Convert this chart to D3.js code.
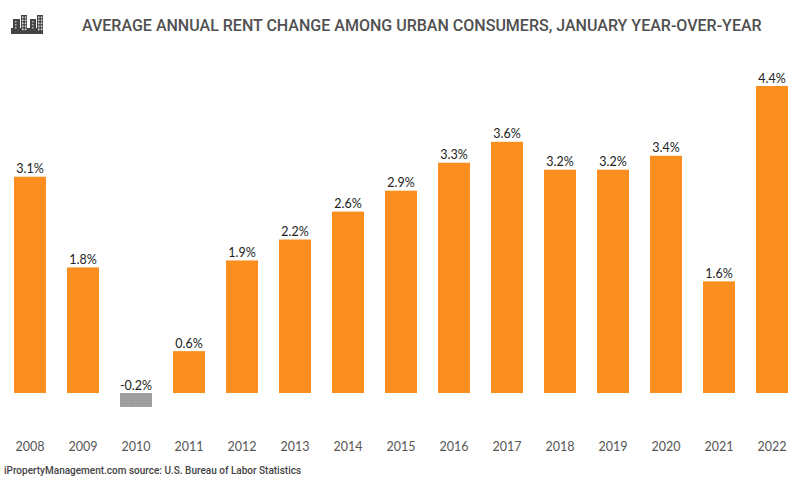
<!DOCTYPE html>
<html>
<head>
<meta charset="utf-8">
<style>
  html, body { margin: 0; padding: 0; background: #fff; }
  svg { display: block; }
</style>
<script src="https://cdn.jsdelivr.net/npm/d3@7"></script>
</head>
<body>
<svg id="chart" width="800" height="478"></svg>
<script>
const years = ["2008", "2009", "2010", "2011", "2012", "2013", "2014", "2015", "2016", "2017", "2018", "2019", "2020", "2021", "2022"];
const rentChange = [3.1, 1.8, -0.2, 0.6, 1.9, 2.2, 2.6, 2.9, 3.3, 3.6, 3.2, 3.2, 3.4, 1.6, 4.4];
const titleText = "AVERAGE ANNUAL RENT CHANGE AMONG URBAN CONSUMERS, JANUARY YEAR-OVER-YEAR";
const sourceText = "iPropertyManagement.com source: U.S. Bureau of Labor Statistics";

const svg = d3.select("#chart");

// bars start at x=14, step 53, width 32
const x = d3.scaleBand().domain(years).range([14, 788]).paddingInner(21 / 53).paddingOuter(0);
// baseline at y=393, 4.4 reaches y=86
const y = d3.scaleLinear().domain([0, 4.4]).range([393, 86]);

// dotted fill for the negative bar
const defs = svg.append("defs");
const pat = defs.append("pattern").attr("id", "neg").attr("width", 3).attr("height", 3).attr("patternUnits", "userSpaceOnUse");
pat.append("rect").attr("width", 3).attr("height", 3).attr("fill", "#a0a0a0");
pat.append("rect").attr("x", 1).attr("y", 1).attr("width", 1).attr("height", 1).attr("fill", "#929292");

// title
svg.append("text")
  .attr("x", 82).attr("y", 31)
  .attr("font-family", "Roboto").attr("font-weight", 500).attr("font-size", 16.03)
  .attr("fill", "#505050").text(titleText);

// city icon
const icon = svg.append("g").attr("fill", "#444");
[[11, 28, 32, 6], [13, 19, 7, 9], [21, 15, 6, 13], [30, 19, 6, 9], [37, 15, 6, 13]].forEach(b => {
  icon.append("rect").attr("x", b[0]).attr("y", b[1]).attr("width", b[2]).attr("height", b[3]);
});
[22, 24.8, 38, 40.8].forEach(wx => {
  d3.range(16.5, 31, 3).forEach(wy => {
    icon.append("rect").attr("x", wx).attr("y", wy).attr("width", 1.5).attr("height", 1.7).attr("fill", "#e4e4e4");
  });
});
[15, 32].forEach(wx => {
  d3.range(21, 28, 3).forEach(wy => {
    icon.append("rect").attr("x", wx).attr("y", wy).attr("width", 1.5).attr("height", 1.5).attr("fill", "#bbb");
  });
});

// bars
svg.append("g").selectAll("rect")
  .data(rentChange)
  .join("rect")
  .attr("x", (d, i) => x(years[i]))
  .attr("y", d => d >= 0 ? y(d) : y(0))
  .attr("width", x.bandwidth())
  .attr("height", d => Math.abs(y(d) - y(0)))
  .attr("fill", d => d >= 0 ? "#fa8f1f" : "url(#neg)");

// value labels
svg.append("g").selectAll("text")
  .data(rentChange)
  .join("text")
  .attr("x", (d, i) => x(years[i]) + x.bandwidth() / 2)
  .attr("y", d => d >= 0 ? y(d) - 3.5 : y(0) - 3)
  .attr("text-anchor", "middle")
  .attr("font-family", "Lato").attr("font-size", 12.5)
  .attr("fill", "#222")
  .text(d => d.toFixed(1) + "%");

// year labels
const axis = d3.axisBottom(x).tickSize(0).tickPadding(0);
const axisG = svg.append("g").attr("transform", "translate(0,447)").call(axis);
axisG.select(".domain").remove();
axisG.selectAll("text")
  .attr("y", 0).attr("dy", "0.35em")
  .attr("font-family", "Lato").attr("font-size", 12.5)
  .attr("fill", "#555");

// source
svg.append("text")
  .attr("x", 4).attr("y", 474)
  .attr("font-family", "Roboto").attr("font-weight", 500).attr("font-size", 10)
  .attr("fill", "#444").text(sourceText);
</script>
</body>
</html>
